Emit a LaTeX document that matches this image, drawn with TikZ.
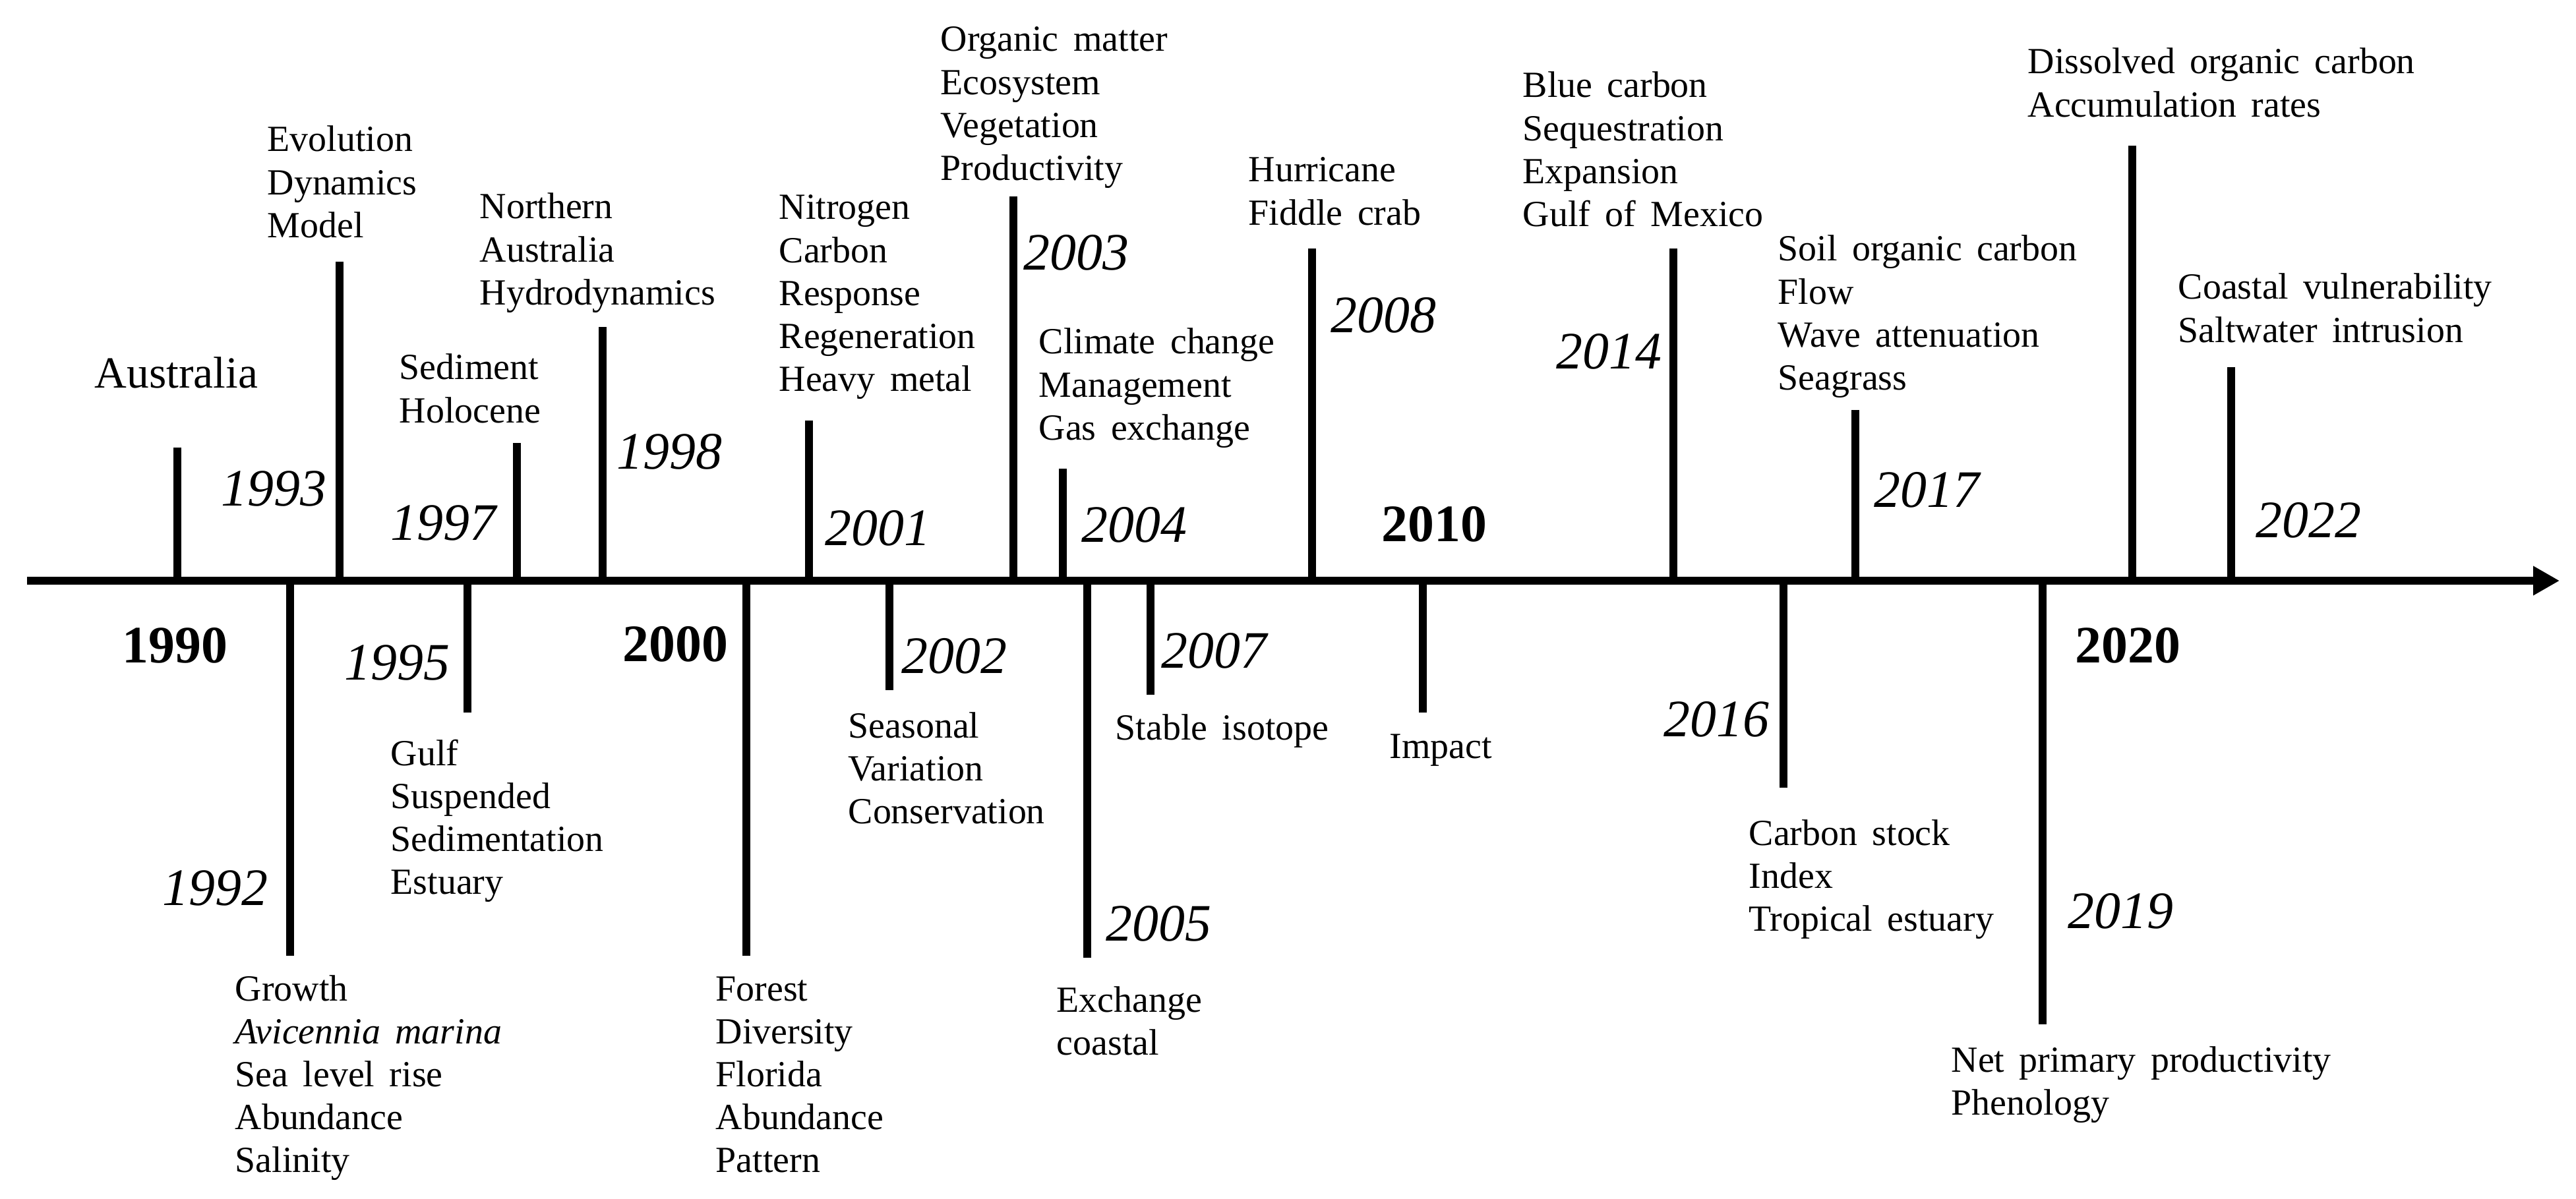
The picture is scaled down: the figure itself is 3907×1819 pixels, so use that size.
\documentclass[tikz,border=0pt]{standalone}
\usepackage{fontspec}
\setmainfont{Liberation Serif}[WordSpace=1.6]
\usetikzlibrary{arrows.meta}
\newcommand\kwlines[1]{\begin{tabular}[t]{@{}l@{}}#1\end{tabular}}
\tikzset{
  axisline/.style={line width=0.12cm,-{Triangle[length=0.4cm,width=0.42cm]}},
  tickline/.style={line width=0.12cm},
  kw/.style={anchor=base west,inner sep=0pt,font=\fontsize{15.9}{18.5}\selectfont},
  bigkw/.style={anchor=base west,inner sep=0pt,font=\fontsize{19.2}{22}\selectfont},
  yr/.style={anchor=base west,inner sep=0pt,font=\fontsize{22.7}{27}\selectfont\itshape},
  dec/.style={anchor=base west,inner sep=0pt,font=\fontsize{22.7}{27}\selectfont\bfseries}
}
\begin{document}
\begin{tikzpicture}[x=0.01cm,y=-0.01cm]
\path[use as bounding box] (0,0) rectangle (3907,1819);
% axis
\coordinate (axstart) at (41,881);
\coordinate (axend) at (3882,881);
\draw[axisline] (axstart) -- (axend);
% ticks: x / free end y / name
\foreach \x/\y/\n in {269/679/1990,515/397/1993,784/672/1997,914/496/1998,
  1227/638/2001,1537/298/2003,1612/711/2004,1990/377/2008,2538/377/2014,
  2814/622/2017,3234/221/2020,3384/557/2022,
  440/1450/1992,709/1081/1995,1132/1450/2000,1349/1047/2002,1649/1453/2005,
  1745/1054/2007,2158/1081/2010,2705/1195/2016,3098/1554/2019}{
  \coordinate (b\n) at (\x,881);
  \coordinate (e\n) at (\x,\y);
  \draw[tickline] (b\n) -- (e\n);
}
% decade labels
\node[dec] (d1990) at (185,1005) {1990};
\node[dec] (d2000) at (944,1003) {2000};
\node[dec] (d2010) at (2095,821) {2010};
\node[dec] (d2020) at (3147,1005) {2020};
% year labels
\node[yr] (y1993) at (335,767) {1993};
\node[yr] (y1997) at (592,819) {1997};
\node[yr] (y1998) at (935,711) {1998};
\node[yr] (y2001) at (1251,827) {2001};
\node[yr] (y2003) at (1552,410) {2003};
\node[yr] (y2004) at (1640,822) {2004};
\node[yr] (y2008) at (2018,505) {2008};
\node[yr] (y2014) at (2360,560) {2014};
\node[yr] (y2017) at (2842,769) {2017};
\node[yr] (y2022) at (3421,815) {2022};
\node[yr] (y1992) at (246,1373) {1992};
\node[yr] (y1995) at (522,1031) {1995};
\node[yr] (y2002) at (1367,1021) {2002};
\node[yr] (y2005) at (1677,1427) {2005};
\node[yr] (y2007) at (1761,1013) {2007};
\node[yr] (y2016) at (2523,1117) {2016};
\node[yr] (y2019) at (3136,1408) {2019};
% keywords
\node[bigkw] (k1990) at (143,589) {Australia};
\node[kw] (k1993) at (405,230) {\kwlines{Evolution\\Dynamics\\Model}};
\node[kw] (k1998) at (727,332) {\kwlines{Northern\\Australia\\Hydrodynamics}};
\node[kw] (k1997) at (605,576) {\kwlines{Sediment\\Holocene}};
\node[kw] (k1995) at (592,1161) {\kwlines{Gulf\\Suspended\\Sedimentation\\Estuary}};
\node[kw] (k1992) at (356,1518) {\kwlines{Growth\\\textit{Avicennia marina}\\Sea level rise\\Abundance\\Salinity}};
\node[kw] (k2001) at (1181,333) {\kwlines{Nitrogen\\Carbon\\Response\\Regeneration\\Heavy metal}};
\node[kw] (k2003) at (1426,78) {\kwlines{Organic matter\\Ecosystem\\Vegetation\\Productivity}};
\node[kw] (k2004) at (1575,537) {\kwlines{Climate change\\Management\\Gas exchange}};
\node[kw] (k2008) at (1893,276) {\kwlines{Hurricane\\Fiddle crab}};
\node[kw] (k2000) at (1085,1518) {\kwlines{Forest\\Diversity\\Florida\\Abundance\\Pattern}};
\node[kw] (k2002) at (1286,1119) {\kwlines{Seasonal\\Variation\\Conservation}};
\node[kw] (k2007) at (1691,1122) {Stable isotope};
\node[kw] (k2005) at (1602,1535) {\kwlines{Exchange\\coastal}};
\node[kw] (k2010) at (2107,1150) {Impact};
\node[kw] (k2014) at (2309,148) {\kwlines{Blue carbon\\Sequestration\\Expansion\\Gulf of Mexico}};
\node[kw] (k2017) at (2696,396) {\kwlines{Soil organic carbon\\Flow\\Wave attenuation\\Seagrass}};
\node[kw] (k2016) at (2652,1282) {\kwlines{Carbon stock\\Index\\Tropical estuary}};
\node[kw] (k2019) at (2959,1626) {\kwlines{Net primary productivity\\Phenology}};
\node[kw] (k2020) at (3075,112) {\kwlines{Dissolved organic carbon\\Accumulation rates}};
\node[kw] (k2022) at (3303,454) {\kwlines{Coastal vulnerability\\Saltwater intrusion}};
\end{tikzpicture}
\end{document}
